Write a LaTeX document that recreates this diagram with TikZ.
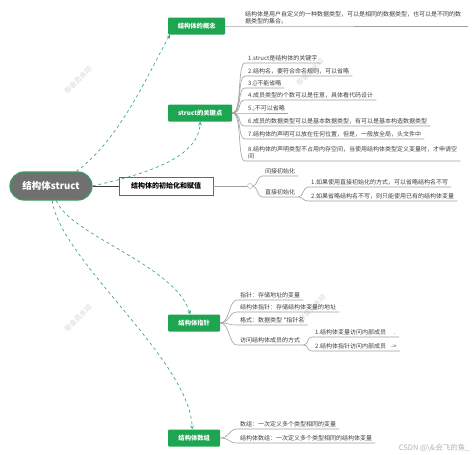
\documentclass[tikz,border=0pt]{standalone}
\usepackage{fontspec}
\setmainfont{Noto Sans CJK SC}
\usepackage{xcolor}
\usetikzlibrary{arrows,positioning,shapes,calc}
\definecolor{topicgreen}{HTML}{1DA551}
\definecolor{linkgreen}{HTML}{3FAA7C}
\definecolor{rootgray}{HTML}{707070}
\definecolor{rootline}{HTML}{3A9A65}
\definecolor{branchgray}{HTML}{A0A0A0}
\definecolor{txtgray}{HTML}{404040}

\begin{document}
\begin{tikzpicture}[x = 1pt, y = -1pt,
  topic/.style = {anchor = west, fill = topicgreen, text = white, font = \fontsize{6.3}{7}\selectfont\bfseries, minimum height = 17pt, inner sep = 1pt, rounded corners = 1pt},
  leaf/.style = {anchor = south west, inner xsep = 3pt, inner ysep = 1.5pt, text = txtgray, font = \fontsize{6}{7.6}\selectfont, align = left},
  branch/.style = {branchgray, line width = .6pt},
  link/.style = {linkgreen, dashed, line width = .7pt, ->, >=stealth},
  watermark/.style = {rotate = 45, text = black!10, font = \fontsize{7}{8}\selectfont\bfseries}]
\useasboundingbox (0,0) rectangle (474,455);

\node[watermark] (w1) at (78,80) {非会员水印};
\node[watermark] (w2) at (78,318) {非会员水印};
\node[watermark] (w3) at (310,72) {非会员水印};
\node[watermark] (w4) at (312,308) {非会员水印};

\node[fill = rootgray, draw = rootline, line width = 1.2pt, rounded corners = 14pt, minimum width = 82pt, minimum height = 28pt, text = white, font = \fontsize{9.5}{10}\selectfont\bfseries] (root) at (51,186) {结构体struct};

\node[topic, minimum width = 57pt] (cn) at (168,26) {结构体的概念};
\node[topic, minimum width = 64pt] (kp) at (168,113) {struct的关键点};
\node[draw = black!60, fill = white, minimum width = 94pt, minimum height = 18pt, font = \fontsize{7}{8}\selectfont\bfseries] (init) at (166,186) {结构体的初始化和赋值};
\node[topic, minimum width = 52pt] (pt) at (168,323) {结构体指针};
\node[topic, minimum width = 52pt] (ar) at (168,438) {结构体数组};

\draw[link] (root.30) .. controls (120,140) and (150,70) .. ([xshift = 2pt]cn.south west);
\draw[link] (root.east) .. controls (140,175) and (198,160) .. (kp.south);
\draw[link] (root.-70) .. controls (70,235) and (175,265) .. ([xshift = -4pt]pt.north);
\draw[link] (root.-85) .. controls (60,260) and (190,360) .. ([xshift = -2pt]ar.north);
\draw[thick, black!75] (root) -- (init);

\node[leaf] (c1) at (242,26) {结构体是用户自定义的一种数据类型，可以是相同的数据类型，也可以是不同的数\\据类型的集合。};
\draw[branch] (cn.east) -- (c1.south west) -- ([xshift = 4pt]c1.south east);

\node[leaf] (k1) at (245,63) {1.struct是结构体的关键字};
\node[leaf] (k2) at (245,76) {2.结构名，要符合命名规则，可以省略};
\node[leaf] (k3) at (245,88) {3.\{\}不能省略};
\node[leaf] (k4) at (245,100) {4.成员类型的个数可以是任意，具体看代码设计};
\node[leaf] (k5) at (245,113) {5.;不可以省略};
\node[leaf] (k6) at (245,126) {6.成员的数据类型可以是基本数据类型，有可以是基本构造数据类型};
\node[leaf] (k7) at (245,139) {7.结构体的声明可以放在任何位置，但是，一般放全局，头文件中};
\node[leaf] (k8) at (245,161) {8.结构体的声明类型不占用内存空间，当使用结构体类型定义变量时，才申请空\\间};
\foreach \i in {1,...,8}
  \draw[branch] (kp.east) .. controls +(10,0) and +(-8,0) .. (k\i.south west) -- (k\i.south east);

\node[circle, draw = branchgray, fill = white, minimum size = 5pt, inner sep = 0pt] (fold) at (250,186) {};
\draw[branch] (init.east) -- (fold.west);
\node[leaf] (i1) at (262,176) {间接初始化};
\node[leaf] (i2) at (262,197) {直接初始化};
\draw[branch] (fold.east) .. controls +(5,0) and +(-5,0) .. (i1.south west) -- (i1.south east);
\draw[branch] (fold.east) .. controls +(5,0) and +(-5,0) .. (i2.south west) -- (i2.south east);
\node[leaf] (d1) at (308,187) {1.如果使用直接初始化的方式，可以省略结构名不写};
\node[leaf] (d2) at (308,201) {2.如果省略结构名不写，则只能使用已有的结构体变量};
\draw[branch] (i2.south east) .. controls +(5,0) and +(-5,0) .. (d1.south west) -- (d1.south east);
\draw[branch] (i2.south east) .. controls +(5,0) and +(-5,0) .. (d2.south west) -- (d2.south east);

\node[leaf] (p1) at (237,300) {指针：存储地址的变量};
\node[leaf] (p2) at (237,312) {结构体指针：存储结构体变量的地址};
\node[leaf] (p3) at (237,325) {格式：数据类型 *指针名};
\node[leaf] (p4) at (237,345) {访问结构体成员的方式};
\foreach \i in {1,...,4}
  \draw[branch] (pt.east) .. controls +(9,0) and +(-8,0) .. (p\i.south west) -- (p\i.south east);
\node[leaf] (q1) at (312,337) {1.结构体变量访问内部成员\hspace{8pt}.};
\node[leaf] (q2) at (312,351) {2.结构体指针访问内部成员\hspace{5pt}->};
\draw[branch] (p4.south east) .. controls +(6,0) and +(-6,0) .. (q1.south west) -- (q1.south east);
\draw[branch] (p4.south east) .. controls +(6,0) and +(-6,0) .. (q2.south west) -- (q2.south east);

\node[leaf] (a1) at (237,429) {数组：一次定义多个类型相同的变量};
\node[leaf] (a2) at (237,443) {结构体数组：一次定义多个类型相同的结构体变量};
\foreach \i in {1,2}
  \draw[branch] (ar.east) .. controls +(9,0) and +(-8,0) .. (a\i.south west) -- (a\i.south east);

\node[anchor = east, text = black!30, font = \fontsize{7.5}{8}\selectfont] (csdn) at (473,448) {CSDN @\textbackslash\&会飞的鱼\_};
\end{tikzpicture}
\end{document}
